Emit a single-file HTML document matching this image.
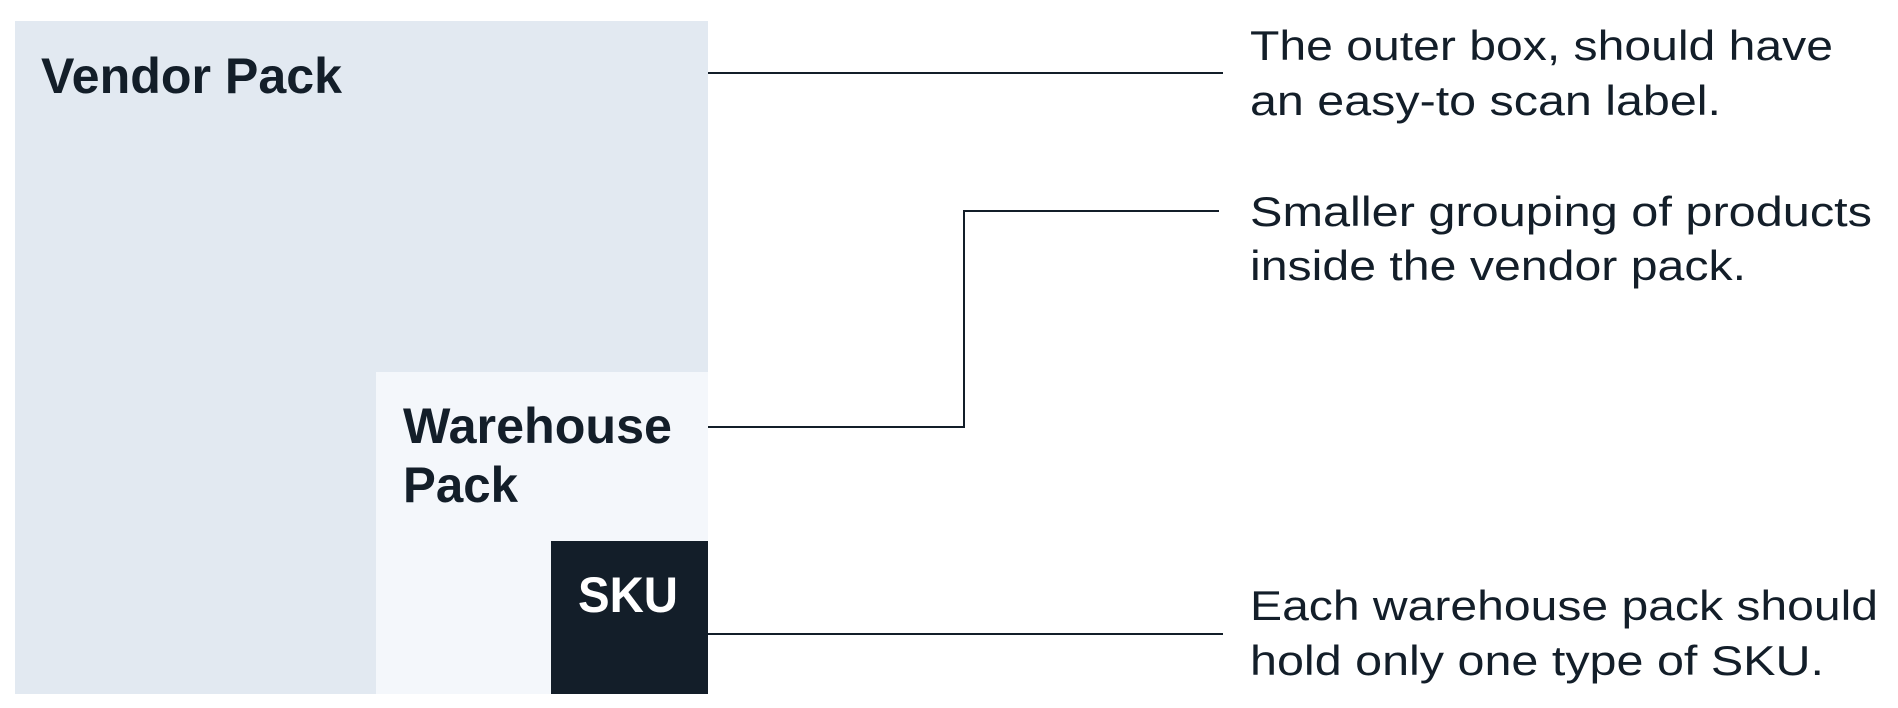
<!DOCTYPE html>
<html><head><meta charset="utf-8"><style>html,body{margin:0;padding:0;background:#fff;}svg{display:block}</style></head>
<body>
<svg width="1898" height="708" viewBox="0 0 1898 708" xmlns="http://www.w3.org/2000/svg" font-family="Liberation Sans, sans-serif">
<rect x="15" y="21" width="693" height="673" fill="#e2e9f1"/>
<rect x="376" y="372" width="332" height="322" fill="#f4f7fb"/>
<rect x="551" y="541" width="157" height="153" fill="#131e29"/>
<g fill="#131e29" font-weight="bold" font-size="50">
<text x="41" y="93" textLength="301" lengthAdjust="spacingAndGlyphs">Vendor Pack</text>
<text x="403" y="443" textLength="269" lengthAdjust="spacingAndGlyphs">Warehouse</text>
<text x="403" y="502" textLength="115" lengthAdjust="spacingAndGlyphs">Pack</text>
</g>
<text x="578" y="612" fill="#fff" font-weight="bold" font-size="50" textLength="100" lengthAdjust="spacingAndGlyphs">SKU</text>
<g stroke="#131e29" stroke-width="2" fill="none">
<line x1="708" y1="73" x2="1223" y2="73"/>
<polyline points="708,427 964,427 964,211 1219,211"/>
<line x1="708" y1="634" x2="1223" y2="634"/>
</g>
<g fill="#131e29" font-size="42">
<text x="1250" y="60" textLength="583" lengthAdjust="spacingAndGlyphs">The outer box, should have</text>
<text x="1250" y="115" textLength="471" lengthAdjust="spacingAndGlyphs">an easy-to scan label.</text>
<text x="1250" y="226" textLength="622" lengthAdjust="spacingAndGlyphs">Smaller grouping of products</text>
<text x="1250" y="280" textLength="496" lengthAdjust="spacingAndGlyphs">inside the vendor pack.</text>
<text x="1250" y="620" textLength="628" lengthAdjust="spacingAndGlyphs">Each warehouse pack should</text>
<text x="1250" y="675" textLength="574" lengthAdjust="spacingAndGlyphs">hold only one type of SKU.</text>
</g>
</svg>
</body></html>
